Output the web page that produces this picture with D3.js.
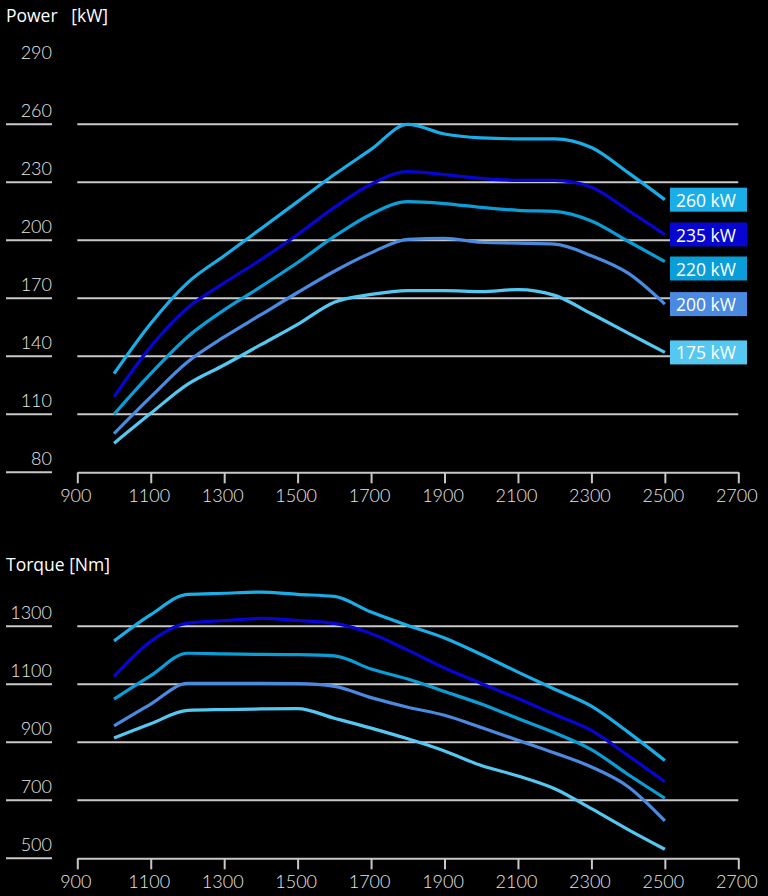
<!DOCTYPE html>
<html>
<head>
<meta charset="utf-8">
<script src="https://cdn.jsdelivr.net/npm/d3@7"></script>
<style>
  body { margin: 0; background: #000; }
  svg { display: block; }
</style>
</head>
<body>
<div class="canva"></div>
<script>
// engine speed (rpm) shared by every curve
const rpm = [1000, 1100, 1200, 1300, 1400, 1500, 1600, 1700, 1800, 1900, 2000, 2100, 2200, 2300, 2400, 2500];
const rpmTicks = [900, 1100, 1300, 1500, 1700, 1900, 2100, 2300, 2500, 2700];
const powerTicks = [80, 110, 140, 170, 200, 230, 260, 290];
const torqueTicks = [500, 700, 900, 1100, 1300];

const ratings = ["260 kW", "235 kW", "220 kW", "200 kW", "175 kW"];
const colors = ["#1aaee8", "#0606d0", "#0a9ed8", "#4a8ae0", "#55c8f2"];

// power [kW]
const power260 = [131, 157, 178, 192, 206, 220, 234, 247, 260, 255, 253, 252.5, 252.5, 248, 235, 221];
const power235 = [119, 145, 165, 178, 190, 203, 217, 229, 235.5, 234, 232, 231, 231, 227.5, 215.5, 203];
const power220 = [110, 131, 150, 164, 176, 188.5, 202, 213.5, 220, 219, 217, 215.5, 215, 210, 199.5, 189];
const power200 = [100, 119, 137, 150, 161.5, 173, 184, 193.5, 200.5, 201, 199, 198.5, 198, 192, 183, 167];
const power175 = [95, 110.5, 125.5, 135.5, 146, 156.5, 168, 172, 174, 174, 173.5, 174.5, 171.5, 162, 152, 142];

// torque [Nm]
const torque260 = [1249, 1340, 1410, 1414, 1418, 1410, 1403, 1349, 1303, 1260, 1203, 1142, 1083, 1025, 935, 837];
const torque235 = [1127, 1248, 1311, 1320, 1327, 1320, 1310, 1275, 1218, 1156, 1103, 1051, 996, 941, 854, 764];
const torque220 = [1049, 1130, 1207, 1205, 1203, 1202, 1198, 1153, 1118, 1075, 1032, 982, 933, 875, 789, 707];
const torque200 = [957, 1032, 1103, 1103, 1103, 1102, 1093, 1054, 1021, 993, 951, 907, 863, 815, 747, 629];
const torque175 = [915, 964, 1010, 1013, 1015, 1016, 983, 949, 912, 870, 820, 784, 740, 671, 599, 531];

const powerSeries = [power260, power235, power220, power200, power175];
const torqueSeries = [torque260, torque235, torque220, torque200, torque175];

const svg = d3.select(".canva").append("svg")
    .attr("width", 768)
    .attr("height", 896)
    .style("background", "#000");

const gridColor = "#c8c8c8";
const labelFont = "Lato, 'DejaVu Sans', sans-serif";

const x = d3.scaleLinear().domain([900, 2700]).range([77.3, 738.3]);

function drawPanel(opts) {
    const y = d3.scaleLinear().domain(opts.domain).range(opts.range);
    const g = svg.append("g");

    // title
    g.append("text")
        .attr("x", 6)
        .attr("y", opts.titleY)
        .attr("fill", "#fff")
        .style("font-family", "'Open Sans', sans-serif")
        .style("font-size", "17.5px")
        .style("white-space", "pre")
        .text(opts.title);

    // y ticks: short stub on the left, long line across the plot
    opts.ticks.forEach(v => {
        g.append("text")
            .attr("x", 52)
            .attr("y", y(v) - 7)
            .attr("text-anchor", "end")
            .attr("fill", "#e6e6e6")
            .style("font-family", labelFont)
            .style("font-weight", 300)
            .style("font-size", "18px")
            .text(v);

        if (opts.noLine.includes(v)) return;
        g.append("line")
            .attr("x1", 6).attr("x2", 52)
            .attr("y1", y(v)).attr("y2", y(v))
            .attr("stroke", gridColor)
            .attr("stroke-width", 2);
        if (v === opts.domain[0]) return;
        g.append("line")
            .attr("x1", x(900)).attr("x2", x(2700))
            .attr("y1", y(v)).attr("y2", y(v))
            .attr("stroke", gridColor)
            .attr("stroke-width", 2);
    });

    // rpm axis
    const xAxis = d3.axisBottom(x)
        .tickValues(rpmTicks)
        .tickSize(11)
        .tickSizeOuter(0)
        .tickPadding(6)
        .tickFormat(d3.format("d"));

    const axisGroup = g.append("g")
        .attr("transform", `translate(0, ${y(opts.domain[0])})`)
        .call(xAxis);
    axisGroup.select(".domain")
        .attr("stroke", gridColor)
        .attr("stroke-width", 2);
    axisGroup.selectAll(".tick line")
        .attr("stroke", gridColor)
        .attr("stroke-width", 2);
    axisGroup.selectAll(".tick text")
        .attr("fill", "#e6e6e6")
        .attr("dx", -2)
        .style("font-family", labelFont)
        .style("font-weight", 300)
        .style("font-size", "18px");

    const line = d3.line()
        .x((d, i) => x(rpm[i]))
        .y(d => y(d))
        .curve(d3.curveMonotoneX);

    opts.series.forEach((s, i) => {
        g.append("path")
            .datum(s)
            .attr("fill", "none")
            .attr("stroke", colors[i])
            .attr("stroke-width", 3.2)
            .attr("stroke-linejoin", "round")
            .attr("d", line);
    });

    return y;
}

const yPower = drawPanel({
    title: "Power   [kW]",
    titleY: 22,
    domain: [80, 290],
    range: [472.3, 66.3],
    ticks: powerTicks,
    noLine: [290],
    series: powerSeries
});

drawPanel({
    title: "Torque [Nm]",
    titleY: 571,
    domain: [500, 1300],
    range: [858.3, 626.3],
    ticks: torqueTicks,
    noLine: [],
    series: torqueSeries
});

// rating boxes at the end of the power curves, kept apart by at least 34px
let prevY = -Infinity;
ratings.forEach((r, i) => {
    let cy = yPower(powerSeries[i][powerSeries[i].length - 1]);
    cy = Math.max(cy, prevY + 34);
    prevY = cy;
    const row = svg.append("g")
        .attr("transform", `translate(670, ${cy - 12})`);
    row.append("rect")
        .attr("width", 77)
        .attr("height", 24)
        .attr("fill", colors[i]);
    row.append("text")
        .attr("x", 6)
        .attr("y", 19)
        .attr("fill", "#fff")
        .style("font-family", "'Open Sans', sans-serif")
        .style("font-size", "17.5px")
        .text(r);
});
</script>
</body>
</html>
